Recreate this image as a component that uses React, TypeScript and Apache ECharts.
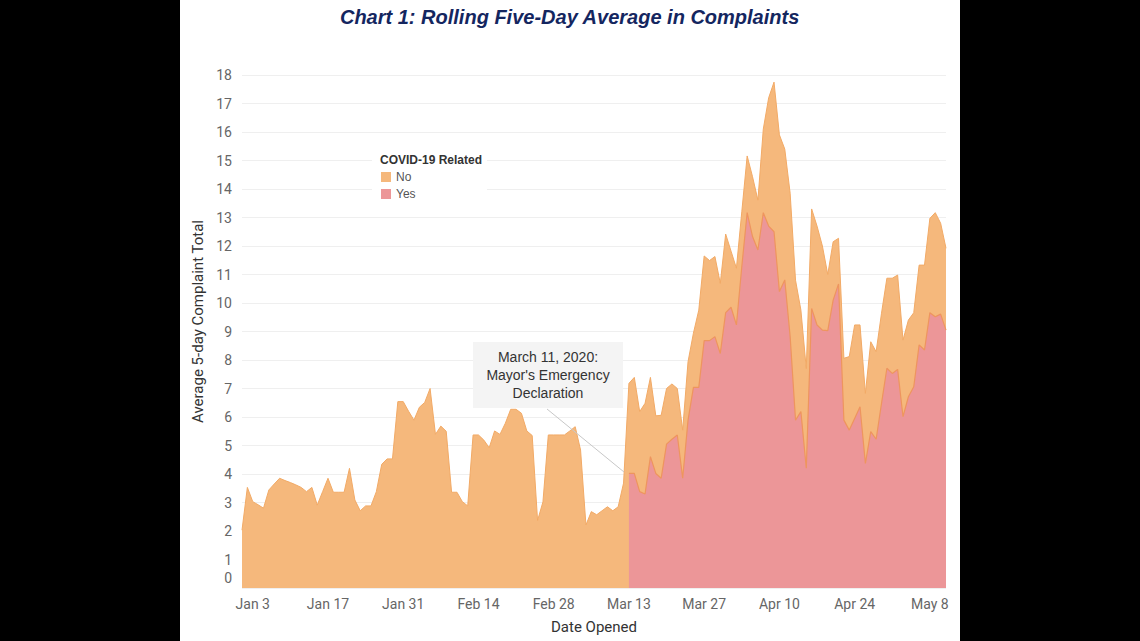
import React, { useEffect, useRef } from "react";
import * as echarts from "echarts";

// ---- data ----
const monthNames = ["Jan", "Feb", "Mar", "Apr", "May", "Jun"];
const firstDay = { year: 2020, month: 0, day: 1 };
const dayCount = 132;
const xTickLabels = ["Jan 3", "Jan 17", "Jan 31", "Feb 14", "Feb 28", "Mar 13", "Mar 27", "Apr 10", "Apr 24", "May 8"];
const legendLabels = ["No", "Yes"];

// rolling five-day average, all complaints (top of the stacked area)
const totalValues = [
  2.03, 3.53, 3.03, 2.92, 2.8, 3.44, 3.65, 3.85, 3.77, 3.7,
  3.62, 3.53, 3.38, 3.53, 2.91, 3.38, 3.85, 3.36, 3.36, 3.36,
  4.2, 3.09, 2.71, 2.88, 2.88, 3.38, 4.34, 4.53, 4.53, 6.54,
  6.54, 6.2, 5.89, 6.34, 6.51, 7.0, 5.39, 5.68, 5.5, 3.36,
  3.36, 3.03, 2.88, 5.37, 5.37, 5.19, 4.92, 5.51, 5.39, 5.78,
  6.27, 6.27, 6.13, 5.51, 5.35, 2.37, 3.02, 5.37, 5.37, 5.37,
  5.37, 5.51, 5.66, 4.84, 2.21, 2.68, 2.57, 2.71, 2.85, 2.71,
  2.85, 3.68, 7.18, 7.39, 6.19, 6.48, 7.39, 6.04, 6.06, 7.0,
  7.16, 7.0, 5.54, 7.94, 8.94, 9.75, 11.65, 11.49, 11.63, 10.69,
  12.42, 11.82, 11.22, 13.2, 15.16, 14.43, 13.61, 16.1, 17.2, 17.75,
  15.9, 15.4, 13.85, 10.8, 9.75, 7.7, 13.3, 12.7, 12.0, 11.0,
  12.15, 12.27, 8.06, 8.12, 9.23, 9.23, 6.83, 8.64, 8.29, 9.64,
  10.87, 10.87, 10.98, 8.7, 9.4, 9.66, 11.33, 11.33, 12.97, 13.17,
  12.8, 11.92,
];

// rolling five-day average, COVID-19 related complaints (from Mar 13)
const covidStartIndex = 72;
const yesValues = [
  4.02, 4.02, 3.38, 3.3, 4.61, 4.02, 3.85, 5.05, 5.22, 5.37,
  3.85, 5.89, 7.04, 7.04, 8.68, 8.68, 8.82, 8.23, 9.66, 9.85,
  9.23, 11.27, 13.17, 12.33, 11.86, 13.17, 12.7, 12.5, 10.4, 10.81,
  8.82, 5.89, 6.19, 4.2, 9.81, 9.23, 9.05, 9.03, 10.1, 10.67,
  5.89, 5.54, 5.95, 6.36, 4.37, 5.49, 5.22, 6.48, 7.71, 7.53,
  7.67, 6.01, 6.71, 7.06, 8.53, 8.35, 9.66, 9.52, 9.61, 9.05,
];

const colorNo = "#F5B87C";
const colorYes = "#EC9698";
const labelFont = "'Liberation Sans Narrow', 'Roboto', sans-serif";
const bodyFont = "'Liberation Sans', Arial, sans-serif";

function buildCategories(): string[] {
  const out: string[] = [];
  for (let i = 0; i < dayCount; i++) {
    const d = new Date(firstDay.year, firstDay.month, firstDay.day + i);
    out.push(`${monthNames[d.getMonth()]} ${d.getDate()}`);
  }
  return out;
}

export default function App() {
  const ref = useRef<HTMLDivElement>(null);

  useEffect(() => {
    if (!ref.current) return;
    const chart = echarts.init(ref.current, undefined, { renderer: "svg" });
    const categories = buildCategories();
    const yesData = categories.map((_, i) =>
      i < covidStartIndex ? null : yesValues[i - covidStartIndex] ?? null
    );

    chart.setOption({
      animation: false,
      backgroundColor: "#ffffff",
      grid: { left: 62, right: 14, top: 75, bottom: 53, containLabel: false },
      legend: {
        data: legendLabels,
        orient: "vertical",
        left: 196,
        top: 166,
        icon: "rect",
        itemWidth: 10,
        itemHeight: 10,
        itemGap: 5,
        z: 6,
        textStyle: { color: "#555", fontSize: 12, fontFamily: bodyFont, lineHeight: 12 },
      },
      xAxis: {
        type: "category",
        data: categories,
        boundaryGap: false,
        name: "Date Opened",
        nameLocation: "middle",
        nameGap: 31,
        nameTextStyle: { color: "#333", fontSize: 15, fontFamily: labelFont },
        axisLine: { show: false },
        axisTick: { show: false },
        splitLine: { show: false },
        axisLabel: {
          interval: (_idx: number, value: string) => xTickLabels.includes(value),
          color: "#666",
          fontSize: 14,
          fontFamily: labelFont,
          margin: 9,
        },
      },
      yAxis: {
        type: "value",
        min: 0,
        max: 18,
        interval: 1,
        name: "Average 5-day Complaint Total",
        nameLocation: "middle",
        nameGap: 25,
        nameTextStyle: { color: "#333", fontSize: 15, fontFamily: labelFont, padding: [0, 0, 0, 20] },
        axisLine: { show: false },
        axisTick: { show: false },
        splitLine: { lineStyle: { color: "#EFEFEF", width: 1 } },
        axisLabel: {
          color: "#666",
          fontSize: 14,
          fontFamily: labelFont,
          margin: 10,
          formatter: (v: number) => (v === 0 ? "{z|0}" : String(v)),
          rich: { z: { padding: [0, 0, 20, 0], color: "#666", fontSize: 14, fontFamily: labelFont } },
        },
      },
      series: [
        {
          name: "No",
          type: "line",
          data: totalValues,
          symbol: "none",
          z: 2,
          itemStyle: { color: colorNo },
          lineStyle: { color: "#F2AA66", width: 1 },
          areaStyle: { color: colorNo, opacity: 1 },
        },
        {
          name: "Yes",
          type: "line",
          data: yesData,
          symbol: "none",
          connectNulls: false,
          z: 3,
          itemStyle: { color: colorYes },
          lineStyle: { color: "#EE955E", width: 1.2 },
          areaStyle: { color: colorYes, opacity: 1 },
        },
      ],
      graphic: [
        {
          type: "text",
          left: "center",
          top: 7,
          z: 10,
          style: {
            text: "Chart 1: Rolling Five-Day Average in Complaints",
            fill: "#14265F",
            font: `italic bold 20px ${bodyFont}`,
          },
        },
        {
          type: "rect",
          shape: { x: 192, y: 148, width: 115, height: 53 },
          style: { fill: "#ffffff" },
          z: 5,
        },
        {
          type: "text",
          x: 200,
          y: 160,
          z: 6,
          style: {
            text: "COVID-19 Related",
            fill: "#333",
            font: `bold 12px ${bodyFont}`,
            verticalAlign: "middle",
          },
        },
        {
          type: "rect",
          shape: { x: 293, y: 342, width: 150, height: 66 },
          style: { fill: "#F4F4F4" },
          z: 6,
        },
        {
          type: "text",
          x: 368,
          y: 375,
          z: 7,
          style: {
            text: "March 11, 2020:\nMayor's Emergency\nDeclaration",
            fill: "#333",
            font: `14px ${bodyFont}`,
            lineHeight: 18,
            align: "center",
            verticalAlign: "middle",
          },
        },
        {
          type: "line",
          shape: { x1: 367, y1: 409, x2: 444, y2: 472 },
          style: { stroke: "#C8C8C8", lineWidth: 1 },
          z: 7,
        },
      ],
    });

    return () => chart.dispose();
  }, []);

  return (
    <div style={{ position: "fixed", left: 0, top: 0, width: 1140, height: 641, background: "#000" }}>
      <div ref={ref} style={{ position: "absolute", left: 180, top: 0, width: 780, height: 641 }} />
    </div>
  );
}
